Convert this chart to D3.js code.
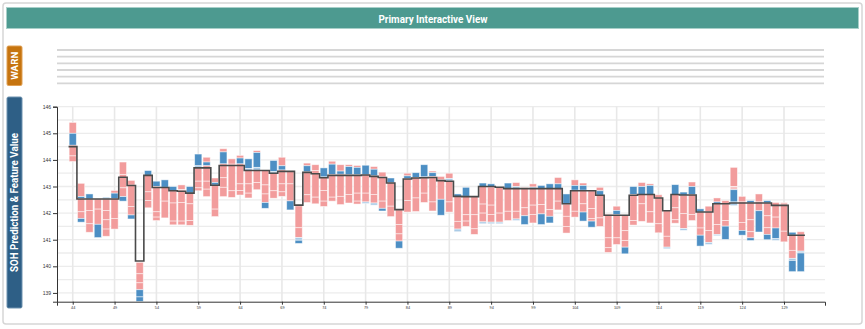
<!DOCTYPE html>
<html>
<head>
<meta charset="utf-8">
<script src="https://cdn.jsdelivr.net/npm/d3@7"></script>
<style>
  body { margin: 0; background: #fff; font-family: Roboto, "Open Sans", sans-serif; }
  svg { display: block; }
</style>
</head>
<body>
<svg id="view" width="865" height="329"></svg>
<script>
// Sample ids on the x axis (one stacked bar per sample)
const sampleIds = d3.range(44, 132);
const xTickValues = [44, 49, 54, 59, 64, 69, 74, 79, 84, 89, 94, 99, 104, 109, 114, 119, 124, 129];
const yTickValues = [139, 140, 141, 142, 143, 144, 145, 146];

// SOH prediction per sample (black step line)
const prediction = [
  144.5, 142.53, 142.53, 142.53, 142.53, 142.53, 143.35, 143.04, 140.2, 143.42,
  142.96, 142.96, 142.84, 142.82, 142.75, 143.7, 143.7, 143.05, 143.79, 143.79,
  143.79, 143.6, 143.6, 143.6, 143.5, 143.57, 143.57, 142.3, 143.53, 143.48,
  143.33, 143.42, 143.42, 143.42, 143.42, 143.43, 143.38, 143.34, 143.13, 142.13,
  143.28, 143.32, 143.33, 143.34, 143.22, 143.2, 142.63, 142.62, 142.62, 143.0,
  143.0, 142.97, 142.92, 142.92, 142.92, 142.92, 142.92, 142.92, 142.92, 142.35,
  142.84, 142.84, 142.84, 142.67, 141.92, 141.92, 141.92, 142.67, 142.7, 142.7,
  142.57, 142.09, 142.7, 142.68, 142.68, 142.04, 142.04, 142.35, 142.35, 142.38,
  142.38, 142.38, 142.38, 142.38, 142.29, 142.29, 141.17, 141.17
];

// Feature contribution segments per sample: breakpoints from top to bottom
const segBreaks = [
  [145.41, 145.0, 144.55, 144.15, 143.94],
  [143.12, 142.62, 142.55, 142.05, 141.8, 141.66],
  [142.72, 142.53, 142.1, 141.6, 141.28],
  [142.53, 142.15, 141.58, 141.08],
  [142.6, 142.53, 142.1, 141.75, 141.4, 141.13],
  [142.85, 142.75, 142.55, 141.8, 141.4],
  [143.92, 143.45, 142.95, 142.62, 142.45],
  [143.23, 143.05, 142.25, 141.93, 141.78],
  [140.15, 139.72, 139.38, 139.12, 138.85, 138.68],
  [143.6, 143.42, 142.8, 142.47, 142.2],
  [143.2, 143.0, 142.05, 141.85, 141.72],
  [143.25, 142.97, 142.45, 141.82],
  [143.0, 142.84, 142.38, 141.7, 141.56],
  [143.06, 142.88, 142.82, 142.4, 141.7, 141.56],
  [143.0, 142.75, 142.35, 141.72, 141.54],
  [144.22, 143.78, 143.7, 143.2, 142.95, 142.84],
  [144.1, 143.92, 143.78, 143.2, 142.9, 142.62],
  [143.32, 143.15, 143.05, 142.15, 141.87],
  [144.42, 144.3, 143.85, 143.33, 142.97, 142.62],
  [144.04, 143.84, 142.84, 142.59],
  [144.17, 144.07, 143.85, 143.1, 142.85, 142.68],
  [144.04, 143.68, 143.6, 143.1, 142.75, 142.57],
  [144.35, 144.28, 143.72, 143.6, 143.15, 142.88],
  [143.6, 143.06, 142.72, 142.4, 142.18],
  [143.98, 143.56, 143.5, 142.84, 142.56],
  [144.1, 143.78, 143.62, 143.1, 142.8, 142.63],
  [143.57, 143.1, 142.46, 142.12],
  [142.27, 141.45, 141.08, 140.98, 140.86],
  [143.88, 143.78, 143.55, 142.69, 142.4],
  [143.82, 143.6, 142.6, 142.35],
  [143.7, 143.36, 143.33, 142.85, 142.45, 142.25],
  [143.95, 143.84, 143.45, 142.6, 142.45],
  [143.82, 143.58, 143.46, 142.63, 142.32],
  [143.82, 143.75, 143.44, 142.7, 142.38],
  [143.79, 143.72, 143.44, 142.75, 142.45, 142.34],
  [143.8, 143.44, 142.75, 142.42, 142.36],
  [143.75, 143.65, 143.4, 142.7, 142.38, 142.3],
  [143.54, 143.36, 142.45, 142.18, 142.08],
  [143.32, 143.14, 142.26, 141.87],
  [142.12, 141.57, 141.22, 140.95, 140.68],
  [143.5, 143.4, 143.3, 142.47, 142.04],
  [143.52, 143.34, 142.57, 142.06],
  [143.82, 143.36, 142.75, 142.4],
  [143.58, 143.52, 143.38, 142.42, 142.08],
  [143.38, 143.25, 142.52, 141.92],
  [143.5, 143.3, 143.2, 142.42, 142.04],
  [142.72, 142.62, 141.69, 141.4, 141.3],
  [142.97, 142.63, 141.94, 141.7, 141.5],
  [142.62, 141.94, 141.41, 141.2],
  [143.13, 143.0, 142.34, 142.0, 141.67, 141.6],
  [143.1, 142.98, 142.3, 141.95, 141.66, 141.6],
  [142.97, 142.0, 141.66, 141.6],
  [143.13, 142.93, 142.07, 141.72],
  [143.15, 143.0, 142.92, 142.07, 141.78, 141.72],
  [142.97, 142.92, 142.2, 141.9, 141.57],
  [143.1, 142.98, 142.92, 142.3, 141.95, 141.63],
  [143.04, 142.92, 142.32, 141.97, 141.57],
  [143.1, 142.92, 142.13, 141.88, 141.63],
  [143.34, 143.1, 142.92, 142.45, 142.12],
  [142.72, 142.34, 141.88, 141.5, 141.25],
  [143.25, 143.04, 142.86, 142.07, 141.85],
  [143.13, 143.04, 142.86, 142.35, 142.04, 141.7],
  [142.84, 142.17, 141.8, 141.7, 141.47],
  [142.97, 142.84, 142.67, 141.82, 141.5],
  [141.95, 141.07, 140.7, 140.52],
  [142.26, 142.1, 141.94, 141.07, 140.82],
  [141.92, 141.34, 140.97, 140.72, 140.47],
  [143.0, 142.7, 141.72, 141.55],
  [143.15, 143.0, 142.7, 142.35, 141.69],
  [143.1, 143.04, 142.7, 142.05, 141.63],
  [142.69, 142.57, 141.6, 141.26],
  [142.09, 141.13, 140.72, 140.66],
  [143.07, 142.7, 142.2, 141.75, 141.62],
  [142.79, 142.67, 141.98, 141.42, 141.35],
  [143.17, 143.0, 142.7, 141.95, 141.72],
  [142.16, 142.04, 141.44, 141.17, 140.76],
  [142.26, 142.06, 141.35, 140.9, 140.82],
  [142.57, 142.42, 142.35, 141.57, 141.2, 141.15],
  [142.47, 142.35, 141.72, 141.51, 141.01],
  [143.72, 143.0, 142.88, 142.42, 142.28],
  [142.63, 142.42, 141.65, 141.35, 141.17],
  [142.47, 142.38, 141.75, 141.3, 141.07, 140.97],
  [142.72, 142.42, 142.09, 141.29],
  [142.47, 142.38, 141.9, 141.45, 141.2, 141.0],
  [142.4, 142.29, 141.85, 141.44, 141.04, 140.97],
  [142.4, 142.29, 141.32, 140.92],
  [141.28, 141.17, 140.6, 140.3, 140.22, 139.8],
  [141.3, 141.17, 140.57, 140.5, 139.8]
];

// r = increases SOH, b = decreases SOH, l / p = small (pale) contributions
const segColors = [
  "rbrr", "rbrrb", "brrr", "rrb", "lrrrr", "rbrr", "rrrb", "rrrb", "rrrbb", "brrr",
  "brrr", "brr", "brrr", "rprrr", "brrr", "blrrr", "rbrrr", "rbrr", "rbrrr", "rrr",
  "rbrrr", "blrrr", "rblrr", "rrrb", "blrr", "rbrrr", "rrb", "rrlb", "rbrr", "rrr",
  "blrrr", "rbrr", "rbrr", "rbrr", "rbrrr", "brrl", "rbrrl", "rrrb", "brr", "rrrb",
  "rbrr", "brr", "brr", "rbrr", "rrb", "rlrr", "brrl", "brrr", "rrr", "brrrl",
  "brrrl", "rrl", "brr", "rlrrl", "prrb", "rlrrr", "brrb", "brrb", "rbrr", "brrr",
  "rbrr", "rbrrb", "rrrb", "rbrr", "rrr", "rbrr", "rrrb", "brr", "rbrr", "rbrr",
  "rrr", "rrl", "brrr", "brrl", "rbrr", "brrb", "rrrl", "rbrrl", "rrrb", "rpbl",
  "rrrb", "brrrb", "rrb", "brrrb", "rrrbl", "prr", "brrlb", "rrlb"
];

const colorMap = { r: "#f29c9c", b: "#4d8fc4", l: "#aacbe6", p: "#f7c4c4" };

const svg = d3.select("#view");

// Card + header
svg.append("rect")
    .attr("x", 3).attr("y", 3).attr("width", 859).attr("height", 321)
    .attr("rx", 3)
    .attr("fill", "#fff").attr("stroke", "#d6d6d6").attr("stroke-width", 1.5);

svg.append("rect")
    .attr("x", 6.5).attr("y", 7.5).attr("width", 852).attr("height", 21)
    .attr("fill", "#4d9a90").attr("stroke", "#a8cfc9").attr("stroke-width", 1);

svg.append("text")
    .attr("x", 433).attr("y", 22.5)
    .attr("text-anchor", "middle")
    .attr("fill", "#fff")
    .attr("font-size", 10.5)
    .attr("font-weight", "bold")
    .attr("textLength", 109)
    .attr("lengthAdjust", "spacingAndGlyphs")
    .text("Primary Interactive View");

// Side labels
function sideLabel(y, h, fill, stroke, label, len, size) {
    svg.append("rect")
        .attr("x", 7).attr("y", y).attr("width", 15).attr("height", h)
        .attr("rx", 1.5)
        .attr("fill", fill).attr("stroke", stroke).attr("stroke-width", 1);
    svg.append("text")
        .attr("transform", "translate(18," + (y + h / 2) + ") rotate(-90)")
        .attr("text-anchor", "middle")
        .attr("fill", "#fff")
        .attr("font-size", size)
        .attr("font-weight", "bold")
        .attr("textLength", len)
        .attr("lengthAdjust", "spacingAndGlyphs")
        .text(label);
}
sideLabel(46, 39.5, "#c6740f", "#e0a055", "WARN", 28, 9);
sideLabel(97, 211, "#2e5f86", "#6f93b0", "SOH Prediction & Feature Value", 139, 10);

// Warning rows (empty)
svg.append("g")
    .selectAll("line")
    .data([50, 56.7, 63.3, 70, 76.7, 83.3])
    .enter().append("line")
    .attr("x1", 57).attr("x2", 824)
    .attr("y1", d => d).attr("y2", d => d)
    .attr("stroke", "#d6d6d6").attr("stroke-width", 1.8);

// Scales
const x = d3.scaleLinear().domain([42.12, 133.9]).range([57, 825]);
const y = d3.scaleLinear().domain([138.67, 146]).range([301.7, 106.7]);

// Grid
const grid = svg.append("g");
grid.selectAll(".hgrid")
    .data(d3.range(139, 146.01, 0.5))
    .enter().append("line")
    .attr("x1", 57).attr("x2", 825)
    .attr("y1", d => y(d)).attr("y2", d => y(d))
    .attr("stroke", "#ececec").attr("stroke-width", 1.3);
grid.selectAll(".vgrid")
    .data(xTickValues)
    .enter().append("line")
    .attr("x1", d => x(d)).attr("x2", d => x(d))
    .attr("y1", y(146)).attr("y2", 301.7)
    .attr("stroke", "#e8e8e8").attr("stroke-width", 1.6);

// Stacked contribution bars
const halfW = 0.43;
sampleIds.forEach(function(s, i) {
    const br = segBreaks[i];
    const cols = segColors[i];
    const g = svg.append("g");
    for (let k = 0; k < br.length - 1; k++) {
        g.append("rect")
            .attr("x", x(s - halfW))
            .attr("width", x(s + halfW) - x(s - halfW))
            .attr("y", y(br[k]))
            .attr("height", y(br[k + 1]) - y(br[k]))
            .attr("fill", colorMap[cols[k]])
            .attr("stroke", "#fff").attr("stroke-opacity", 0.6).attr("stroke-width", 0.8);
    }
});

// Prediction step line
const stepPoints = [];
sampleIds.forEach(function(s, i) {
    stepPoints.push([s - 0.5, prediction[i]]);
    stepPoints.push([s + 0.5, prediction[i]]);
});
svg.append("path")
    .datum(stepPoints)
    .attr("fill", "none")
    .attr("stroke", "#4a4a4a")
    .attr("stroke-width", 1.6)
    .attr("d", d3.line().x(d => x(d[0])).y(d => y(d[1])));

// Axes
const xAxis = svg.append("g")
    .attr("transform", "translate(0,301.7)")
    .call(d3.axisBottom(x).tickValues(xTickValues).tickSize(3).tickSizeOuter(4).tickPadding(1.5));
xAxis.selectAll("text").attr("font-size", 3.8).attr("fill", "#333");

const yAxis = svg.append("g")
    .attr("transform", "translate(57,0)")
    .call(d3.axisLeft(y).tickValues(yTickValues).tickSize(4).tickSizeOuter(4).tickPadding(2));
yAxis.selectAll("text").attr("font-size", 5).attr("fill", "#333");

svg.selectAll(".domain, .tick line").attr("stroke", "#333");
</script>
</body>
</html>
